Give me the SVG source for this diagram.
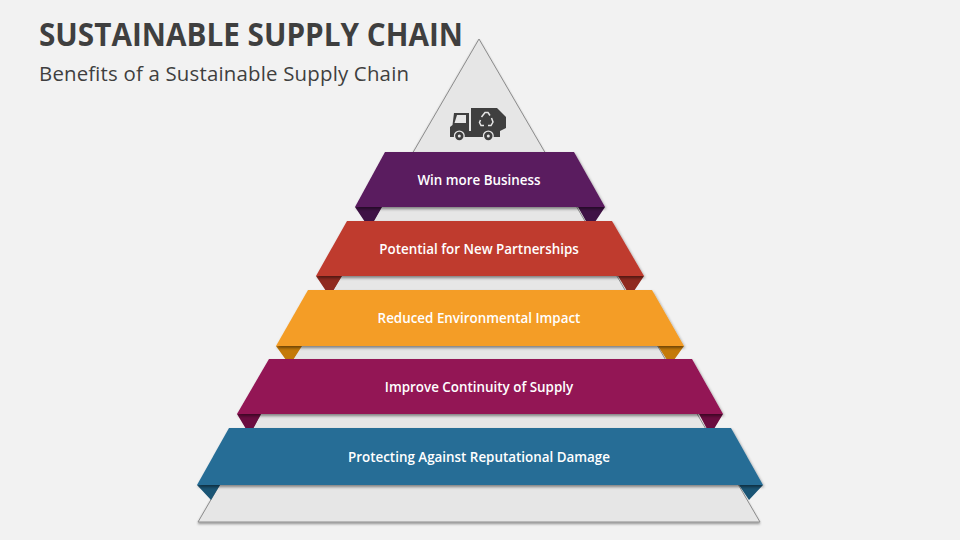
<svg xmlns="http://www.w3.org/2000/svg" width="960" height="540" viewBox="0 0 960 540">
<defs>
<style>
.t{font-family:"Open Sans","Liberation Sans",sans-serif}
.l{font-size:13.400px;font-weight:600;fill:#fff;text-anchor:middle}
.w{fill:#3f3f3f}
</style>
<filter id="s" x="-10%" y="-20%" width="120%" height="150%"><feDropShadow dx="1" dy="2" stdDeviation="1.500" flood-color="#000" flood-opacity=".45"/></filter>
<filter id="p" x="-5%" y="-5%" width="110%" height="110%"><feDropShadow dx="0" dy="1.500" stdDeviation="1" flood-color="#000" flood-opacity=".4"/></filter>
</defs>
<rect width="960" height="540" fill="#f2f2f2"/>
<text class="t" x="39" y="46" font-size="33" font-weight="700" fill="#3f3f3f" textLength="424" lengthAdjust="spacingAndGlyphs">SUSTAINABLE SUPPLY CHAIN</text>
<text class="t" x="39" y="80.500" font-size="20.400" fill="#3f3f3f" textLength="370" lengthAdjust="spacing">Benefits of a Sustainable Supply Chain</text>
<g id="pyramid"><path d="M479 39L760 522H198Z" fill="#e6e6e6" stroke="#8c8c8c" stroke-width="1" filter="url(#p)"/></g>
<g id="truck" class="w">
<path d="M471 108H497L506 117V128L500 131H471Z"/>
<path d="M454 113H469V131H500V137H450V127L452.500 125Z"/>
<path d="M457 115H466V123H454.500Z" fill="#e6e6e6"/>
<circle cx="459.300" cy="136" r="5.500" fill="#e6e6e6"/><circle cx="459.300" cy="136" r="4.200"/><circle cx="459.300" cy="136" r="1.500" fill="#e6e6e6"/>
<circle cx="488.300" cy="136" r="5.500" fill="#e6e6e6"/><circle cx="488.300" cy="136" r="4.200"/><circle cx="488.300" cy="136" r="1.500" fill="#e6e6e6"/>
<path d="M481.500 117L485 112.500H488L490 115.500M491.500 118L493 122L491 125.500H488M484 125.500H481L479.500 122.500L480.500 120" fill="none" stroke="#e6e6e6" stroke-width="1.500"/>
</g>
<g id="band-1">
<path d="M355 207H382L373.500 222H365Z M605 207H578L586.500 222H595Z" fill="#3f1245"/>
<path d="M385 152H574L605 207H355Z" fill="#5a1a5e" filter="url(#s)"/>
<text class="t l" x="479" y="185">Win more Business</text>
</g>
<g id="band-2">
<path d="M316 276H342L333 291H326Z M644 276H618L627 291H634Z" fill="#8f2a20"/>
<path d="M347 221H612L644 276H316Z" fill="#bf3a2e" filter="url(#s)"/>
<text class="t l" x="479" y="254">Potential for New Partnerships</text>
</g>
<g id="band-3">
<path d="M276 346H302L293 360H286Z M684 346H658L667 360H674Z" fill="#c47a0a"/>
<path d="M308 290H652L684 346H276Z" fill="#f49d25" filter="url(#s)"/>
<text class="t l" x="479" y="323">Reduced Environmental Impact</text>
</g>
<g id="band-4">
<path d="M237 414H261L253 429H246Z M723 414H699L707 429H714Z" fill="#6b0c40"/>
<path d="M269 359H692L723 414H237Z" fill="#931354" filter="url(#s)"/>
<text class="t l" x="479" y="392">Improve Continuity of Supply</text>
</g>
<g id="band-5">
<path d="M197 485H220L211 500Z M763 485H739L749 500Z" fill="#1a5575"/>
<path d="M229 428H731L763 485H197Z" fill="#266d96" filter="url(#s)"/>
<text class="t l" x="479" y="462">Protecting Against Reputational Damage</text>
</g>
</svg>
